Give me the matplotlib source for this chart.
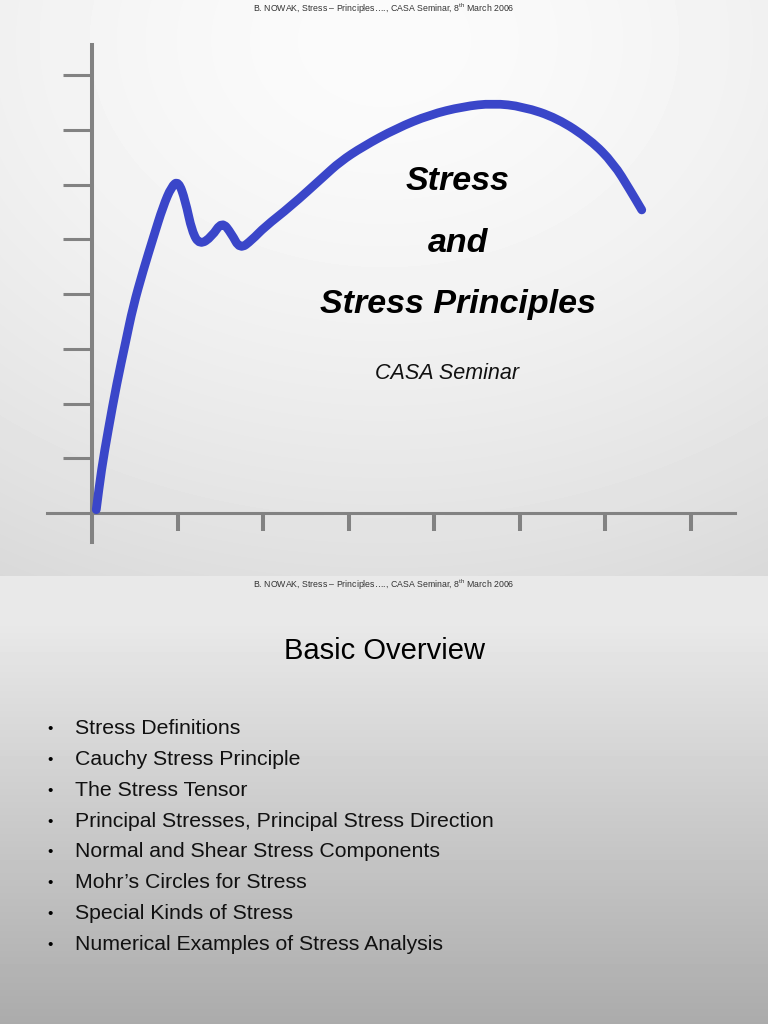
import numpy as np
import matplotlib.pyplot as plt
from matplotlib.path import Path
from matplotlib.patches import PathPatch

# ----- Данные ----- #
strain = [0.05, 0.11, 0.19, 0.29, 0.39, 0.48, 0.60, 0.72, 0.83, 0.93, 1.01, 1.09,
          1.17, 1.26, 1.40, 1.52, 1.63, 1.73, 1.87, 2.02, 2.32, 2.71, 2.90, 3.17,
          3.56, 3.95, 4.34, 4.69, 5.04, 5.44, 5.83, 6.10, 6.29, 6.43]
stress = [0.06, 0.79, 1.52, 2.37, 3.10, 3.77, 4.44, 5.05, 5.60, 5.97, 6.07, 5.72,
          5.14, 4.90, 5.05, 5.33, 5.11, 4.82, 4.99, 5.23, 5.60, 6.15, 6.42, 6.70,
          7.03, 7.28, 7.43, 7.49, 7.43, 7.22, 6.82, 6.39, 5.91, 5.54]
x_ticks = [1, 2, 3, 4, 5, 6, 7]
y_ticks = [1, 2, 3, 4, 5, 6, 7, 8]

header = "B. NOWAK, Stress \u2013 Principles\u2026., CASA Seminar, 8$^{\\rm th}$ March 2006"
title_lines = ["Stress", "and", "Stress Principles"]
subtitle = "CASA Seminar"
overview_title = "Basic Overview"
bullets = [
    "Stress Definitions",
    "Cauchy Stress Principle",
    "The Stress Tensor",
    "Principal Stresses, Principal Stress Direction",
    "Normal and Shear Stress Components",
    "Mohr\u2019s Circles for Stress",
    "Special Kinds of Stress",
    "Numerical Examples of Stress Analysis",
]

plt.rcParams['font.family'] = ['Liberation Sans', 'DejaVu Sans']
plt.rcParams['mathtext.fontset'] = 'custom'
plt.rcParams['mathtext.rm'] = 'Liberation Sans'

W, H = 768, 1024
fig = plt.figure(figsize=(W / 100, H / 100), dpi=100)

# ----- Фон двух слайдов ----- #
yy, xx = np.mgrid[0:H, 0:W]
r = np.sqrt(((xx - 384) / 1.3) ** 2 + (yy - 40) ** 2)
top = 251 - 34 * (r / r[575, 0]) ** 1.6
bottom = np.where(yy < 620, 233, 233 - (yy - 620) * 62 / 404)
bg = np.where(yy < 576, top, bottom)
bg_ax = fig.add_axes([0, 0, 1, 1])
bg_ax.imshow(bg, cmap='gray', vmin=0, vmax=255, aspect='auto', extent=[0, W, H, 0])
bg_ax.axis('off')


def fig_text(x, y, s, **kw):
    fig.text(x / W, 1 - y / H, s, **kw)


def smooth_path(xs, ys):
    # квадратичные кривые Безье через середины отрезков
    pts = np.column_stack([xs, ys])
    verts = [pts[0], (pts[0] + pts[1]) / 2]
    codes = [Path.MOVETO, Path.LINETO]
    for i in range(1, len(pts) - 1):
        verts += [pts[i], (pts[i] + pts[i + 1]) / 2]
        codes += [Path.CURVE3, Path.CURVE3]
    verts.append(pts[-1])
    codes.append(Path.LINETO)
    return Path(verts, codes)


# ----- Диаграмма напряжений ----- #
ax = fig.add_axes([0.0530, 0.4670, 0.9129, 0.4968])
ax.set_xlim(-0.6, 7.6)
ax.set_ylim(-0.6, 8.7)
ax.patch.set_visible(False)
for side in ['top', 'right']:
    ax.spines[side].set_visible(False)
ax.spines['left'].set_position(('data', 0))
ax.spines['bottom'].set_position(('data', 0))
ax.spines['left'].set_bounds(-0.53, 8.56)
ax.spines['bottom'].set_bounds(-0.53, 7.52)
ax.spines['left'].set_linewidth(2.9)
ax.spines['bottom'].set_linewidth(2.2)
ax.spines['left'].set_color('#828282')
ax.spines['bottom'].set_color('#828282')
ax.set_xticks(x_ticks)
ax.set_yticks(y_ticks)
ax.tick_params(axis='x', direction='out', length=13, width=2.9, color='#828282', labelbottom=False)
ax.tick_params(axis='y', direction='out', length=21, width=2.2, color='#828282', labelleft=False)

curve = PathPatch(smooth_path(strain, stress), facecolor='none', edgecolor='#3a46c9',
                  lw=6.3, joinstyle='round', capstyle='round', zorder=3, clip_on=False)
ax.add_patch(curve)

# ----- Тексты ----- #
fig_text(384, 12, header, ha='center', va='baseline', fontsize=6.3, color='#333333')
fig_text(384, 588, header, ha='center', va='baseline', fontsize=6.3, color='#333333')

title_y = [190, 252, 313]
for s, y in zip(title_lines, title_y):
    fig_text(458, y, s, ha='center', va='baseline', fontsize=24.5,
             fontweight='bold', fontstyle='italic', color='black')
fig_text(447, 379, subtitle, ha='center', va='baseline', fontsize=15.5,
         fontstyle='italic', color='#111111')

fig_text(384, 659, overview_title, ha='center', va='baseline', fontsize=21, color='black')
for i, s in enumerate(bullets):
    y = 734 + i * 30.86
    fig_text(50, y - 1, "\u2022", ha='center', va='baseline', fontsize=11, color='black')
    fig_text(75, y, s, ha='left', va='baseline', fontsize=15.3, color='#111111')

fig.savefig('out.png', dpi=100)
